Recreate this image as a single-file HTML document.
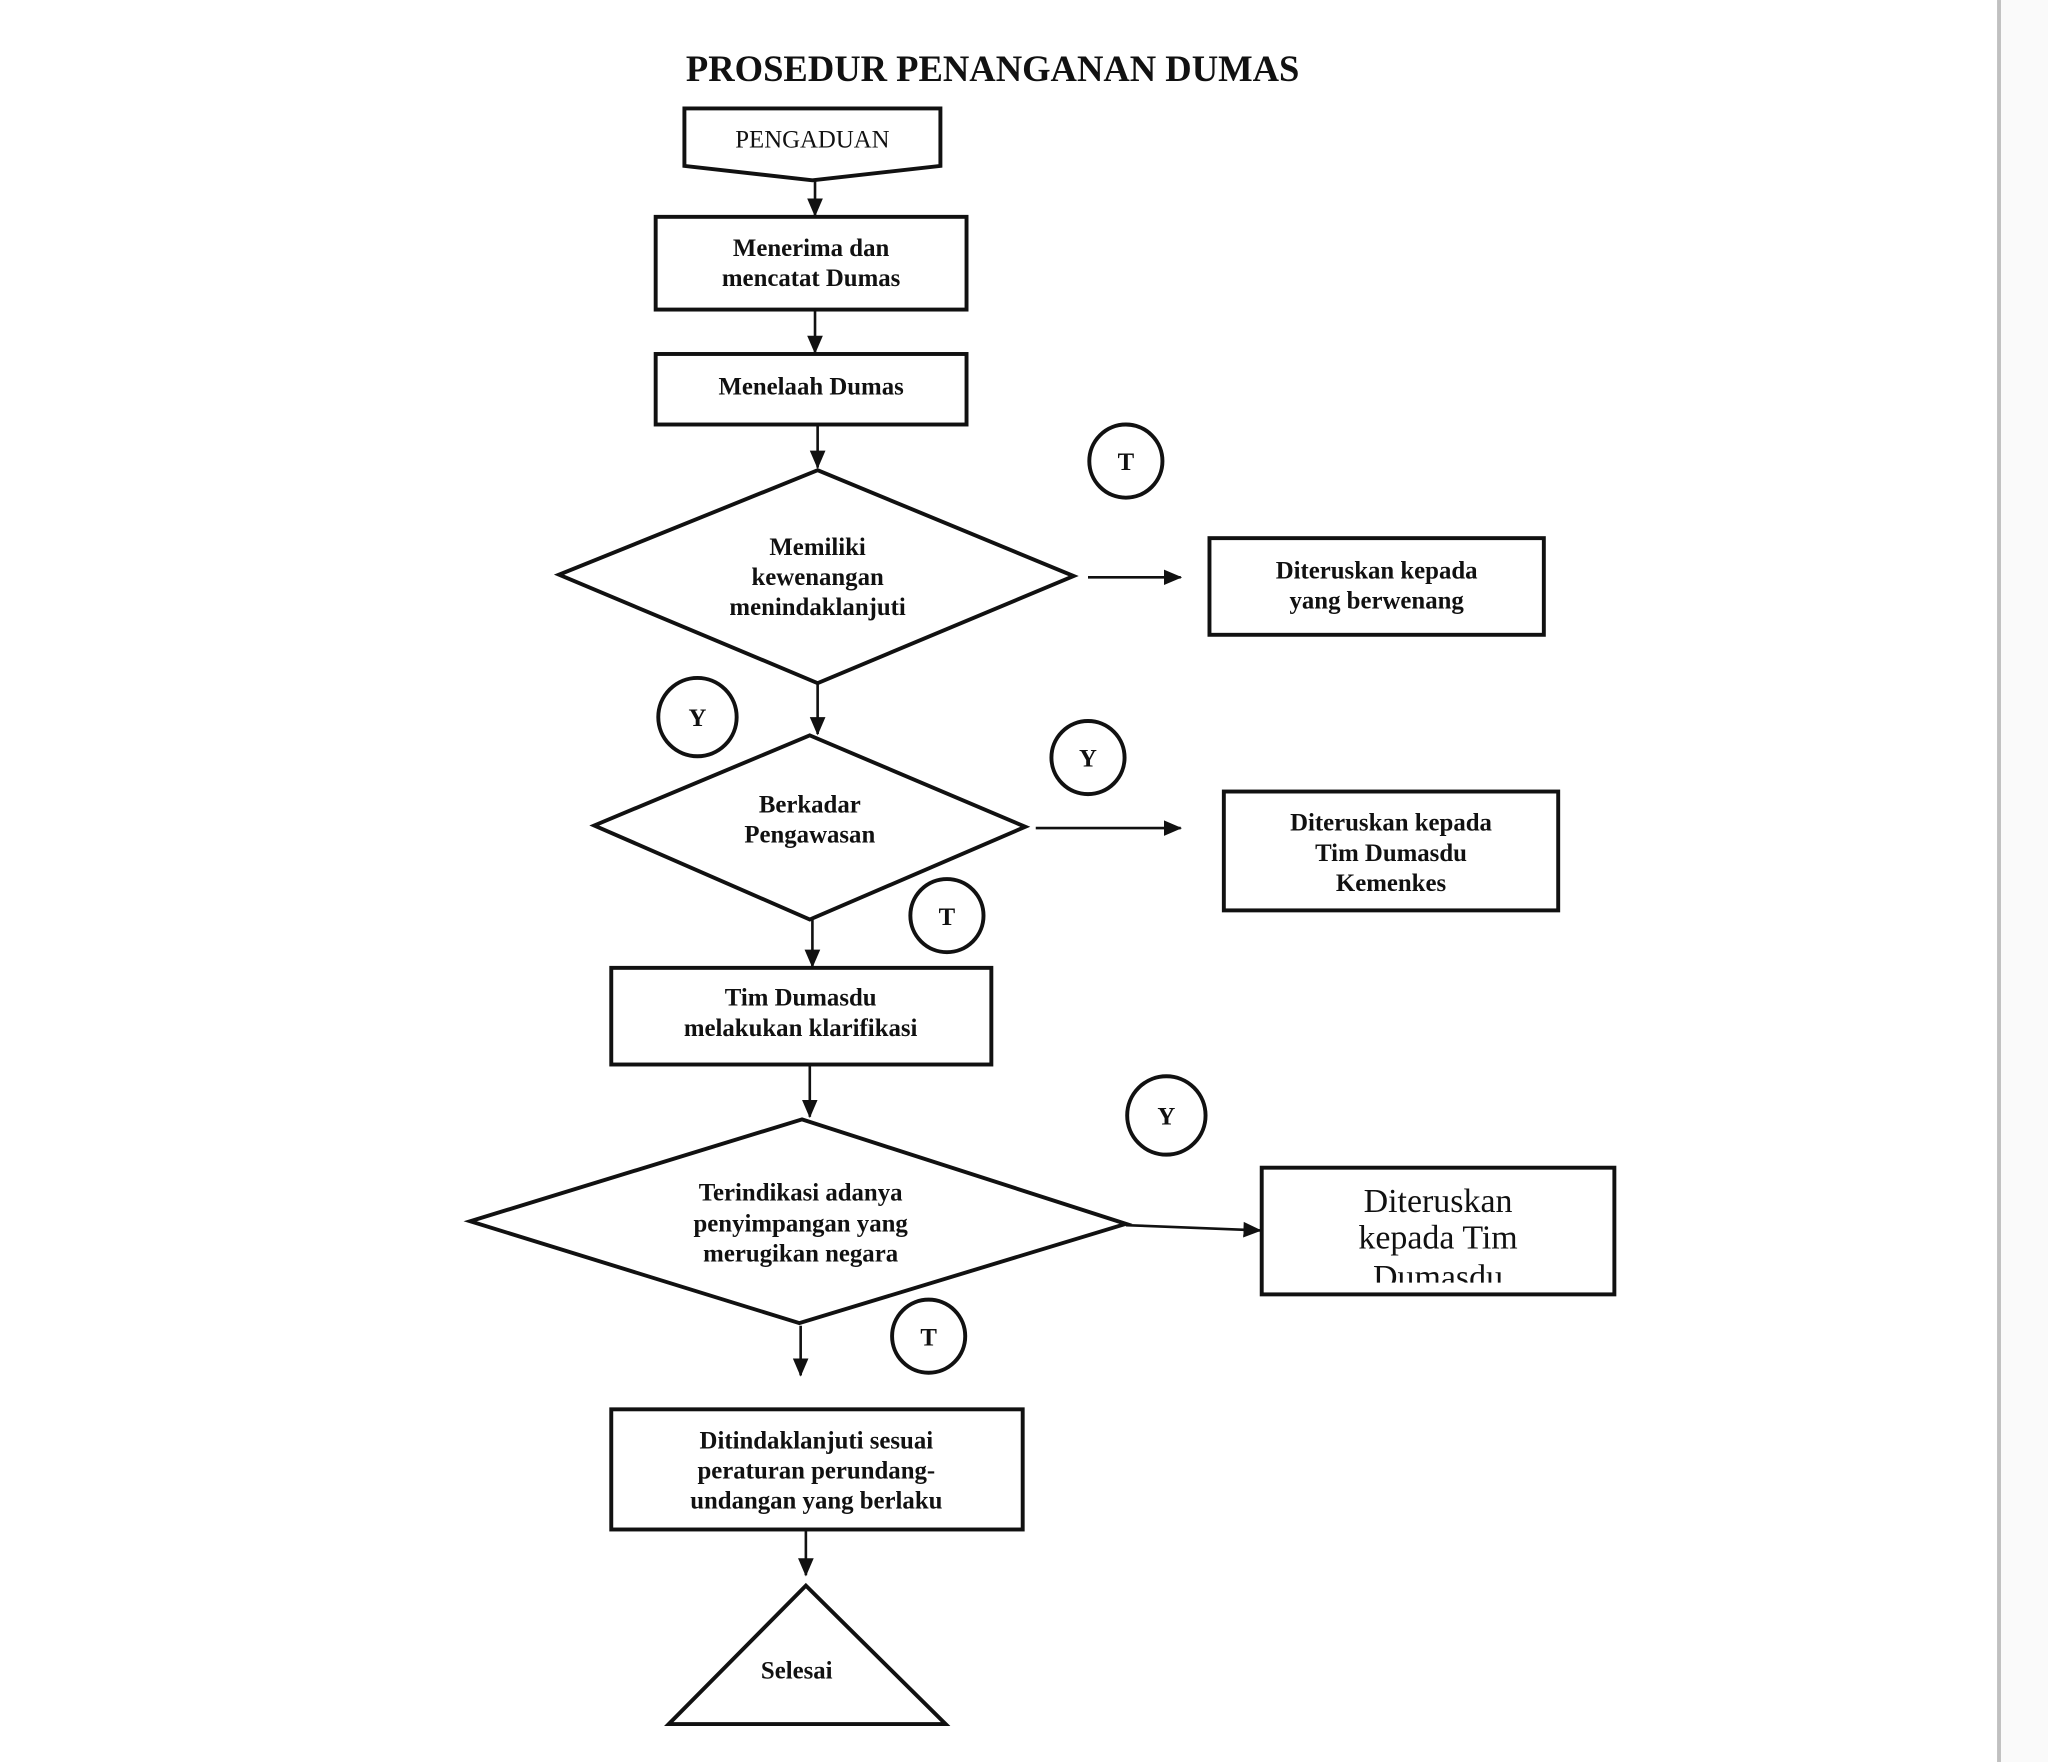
<!DOCTYPE html>
<html><head><meta charset="utf-8"><style>
html,body{margin:0;padding:0;background:#fff;width:2048px;height:1762px;overflow:hidden}
svg{display:block}
text{font-family:"Liberation Serif",serif;fill:#111;text-anchor:middle}
.b{font-weight:bold;font-size:19px}
</style></head><body>
<svg width="2048" height="1762" viewBox="0 0 1568 1349" xmlns="http://www.w3.org/2000/svg">
<defs>
<marker id="a" markerWidth="10" markerHeight="10" refX="9" refY="5" orient="auto" markerUnits="userSpaceOnUse"><path d="M0,0 L10,5 L0,10 z" fill="#111"/></marker>
<marker id="v" viewBox="0 0 14 14" markerWidth="14" markerHeight="14" refX="13" refY="7" orient="auto" markerUnits="userSpaceOnUse"><path d="M0,1 L14,7 L0,13 z" fill="#111"/></marker>
<clipPath id="c6"><rect x="968" y="896" width="266" height="86"/></clipPath>
</defs>
<rect x="1529" y="0" width="3" height="1349" fill="#c0c0c0"/>
<rect x="1532" y="0" width="36" height="1349" fill="#fafafa"/>
<g stroke="#111" stroke-width="3" fill="none">
<polygon points="524,83 720,83 720,127 622,138 524,127"/>
<rect x="502" y="166" width="238" height="71"/>
<rect x="502" y="271" width="238" height="54"/>
<polygon points="626,360 822,441 626,523 428,440"/>
<rect x="926" y="412" width="256" height="74"/>
<circle cx="862" cy="353" r="28"/>
<circle cx="534" cy="549" r="30"/>
<polygon points="620,563 785,633 620,704 455,632"/>
<circle cx="833" cy="580" r="28"/>
<rect x="937" y="606" width="256" height="91"/>
<circle cx="725" cy="701" r="28"/>
<rect x="468" y="741" width="291" height="74"/>
<circle cx="893" cy="854" r="30"/>
<polygon points="614,857 862,937 612,1013 360,935"/>
<rect x="966" y="894" width="270" height="97"/>
<circle cx="711" cy="1023" r="28"/>
<rect x="468" y="1079" width="315" height="92"/>
<polygon points="617,1214 724,1320 512,1320"/>
</g>
<g stroke="#111" stroke-width="2">
<line x1="624" y1="138" x2="624" y2="165" marker-end="url(#v)"/>
<line x1="624" y1="237" x2="624" y2="270" marker-end="url(#v)"/>
<line x1="626" y1="325" x2="626" y2="358" marker-end="url(#v)"/>
<line x1="833" y1="442" x2="904" y2="442" marker-end="url(#v)"/>
<line x1="626" y1="523" x2="626" y2="562" marker-end="url(#v)"/>
<line x1="793" y1="634" x2="904" y2="634" marker-end="url(#v)"/>
<line x1="622" y1="704" x2="622" y2="740" marker-end="url(#v)"/>
<line x1="620" y1="815" x2="620" y2="855" marker-end="url(#v)"/>
<line x1="862" y1="938" x2="965" y2="942" marker-end="url(#v)"/>
<line x1="613" y1="1015" x2="613" y2="1053" marker-end="url(#v)"/>
<line x1="617" y1="1171" x2="617" y2="1206" marker-end="url(#v)"/>
</g>
<text x="760" y="62" style="font-weight:900;font-size:28px">PROSEDUR PENANGANAN DUMAS</text>
<text x="622" y="113" style="font-size:19px">PENGADUAN</text>
<text class="b" x="621" y="196">Menerima dan</text>
<text class="b" x="621" y="219">mencatat Dumas</text>
<text class="b" x="621" y="302">Menelaah Dumas</text>
<text class="b" x="626" y="425">Memiliki</text>
<text class="b" x="626" y="448">kewenangan</text>
<text class="b" x="626" y="471">menindaklanjuti</text>
<text class="b" x="1054" y="443">Diteruskan kepada</text>
<text class="b" x="1054" y="466">yang berwenang</text>
<text class="b" x="862" y="360">T</text>
<text class="b" x="534" y="556">Y</text>
<text class="b" x="620" y="622">Berkadar</text>
<text class="b" x="620" y="645">Pengawasan</text>
<text class="b" x="833" y="587">Y</text>
<text class="b" x="1065" y="636">Diteruskan kepada</text>
<text class="b" x="1065" y="659">Tim Dumasdu</text>
<text class="b" x="1065" y="682">Kemenkes</text>
<text class="b" x="725" y="708">T</text>
<text class="b" x="613" y="770">Tim Dumasdu</text>
<text class="b" x="613" y="793">melakukan klarifikasi</text>
<text class="b" x="893" y="861">Y</text>
<text class="b" x="613" y="919">Terindikasi adanya</text>
<text class="b" x="613" y="943">penyimpangan yang</text>
<text class="b" x="613" y="966">merugikan negara</text>
<g clip-path="url(#c6)" style="font-size:26px">
<text x="1101" y="928">Diteruskan</text>
<text x="1101" y="956">kepada Tim</text>
<text x="1101" y="986">Dumasdu</text>
</g>
<text class="b" x="711" y="1030">T</text>
<text class="b" x="625" y="1109">Ditindaklanjuti sesuai</text>
<text class="b" x="625" y="1132">peraturan perundang-</text>
<text class="b" x="625" y="1155">undangan yang berlaku</text>
<text class="b" x="610" y="1285">Selesai</text>
</svg>
</body></html>
